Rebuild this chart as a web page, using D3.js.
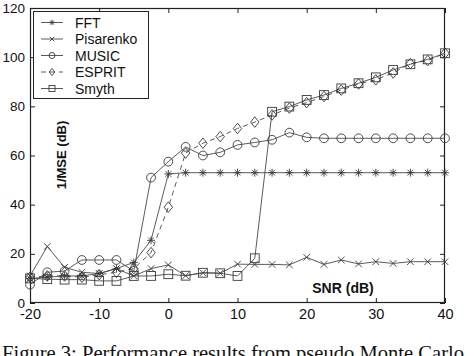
<!DOCTYPE html>
<html>
<head>
<meta charset="utf-8">
<script src="https://cdn.jsdelivr.net/npm/d3@7"></script>
<style>
  html, body { margin: 0; padding: 0; background: #fff; overflow: hidden; }
  svg { display: block; }
</style>
</head>
<body>
<svg id="chart" width="474" height="356"></svg>
<script>
const snr = [-20, -17.5, -15, -12.5, -10, -7.5, -5, -2.5, 0, 2.5, 5, 7.5, 10, 12.5, 15, 17.5, 20, 22.5, 25, 27.5, 30, 32.5, 35, 37.5, 40];
const fft       = [10, 10.5, 11, 11, 12, 14, 16.5, 25.5, 52.5, 53, 53, 53, 53, 53, 53, 53, 53, 53, 53, 53, 53, 53, 53, 53, 53];
const pisarenko = [11, 23, 14.5, 12.5, 12, 14, 11, 14, 15.5, 11.1, 12.3, 12.1, 15.8, 15.7, 15.7, 15.5, 18.6, 15.7, 17.5, 15.9, 16.8, 16.1, 16.8, 16.8, 16.8];
const music     = [7.5, 12.5, 13, 17.5, 17.5, 17.5, 13, 51, 57.5, 63.5, 60, 61.3, 64.3, 65.3, 66.4, 69.3, 67.4, 67, 67, 67, 67, 67, 67, 67, 67];
const esprit    = [10.5, 11, 11, 10.5, 11.5, 12.5, 14, 20.5, 39, 61, 65, 67.7, 71, 73.6, 76.5, 79.3, 81.5, 84, 86.6, 89.1, 90.8, 93.6, 97.4, 98.6, 101.6];
const smyth     = [10, 9.7, 9.5, 9.5, 9, 9, 11, 11, 11.7, 11.1, 12.3, 12.1, 11, 18.2, 77.8, 79.9, 82.6, 84.6, 87.3, 89.4, 91.8, 94.8, 97.1, 99.1, 101.6];
const seriesNames = ["FFT", "Pisarenko", "MUSIC", "ESPRIT", "Smyth"];
const seriesMarkers = ["star", "cross", "circle", "diamond", "square"];
const xTicks = [-20, -10, 0, 10, 20, 30, 40];
const yTicks = [0, 20, 40, 60, 80, 100, 120];
const xLabel = "SNR (dB)";
const yLabel = "1/MSE (dB)";
const caption = "Figure 3: Performance results from pseudo Monte Carlo";

(function () {
const seriesValues = [fft, pisarenko, music, esprit, smyth];
const series = seriesNames.map((name, i) => ({
  name, marker: seriesMarkers[i], dashed: name === "ESPRIT",
  points: snr.map((xv, j) => ({ x: xv, y: seriesValues[i][j] }))
}));

const svg = d3.select("#chart");
const mLeft = 30, mRight = 445, mTop = 8, mBottom = 303;
const x = d3.scaleLinear().domain([-20, 40]).range([mLeft, mRight]);
const y = d3.scaleLinear().domain([0, 120]).range([mBottom, mTop]);

const lineColor = "#4a4a4a";
const markColor = "#3a3a3a";
const fmt = d => String(d);

// caption (cut off at the bottom edge, as in the reference)
svg.append("text")
  .attr("x", 2).attr("y", 360)
  .attr("font-family", "Liberation Serif, serif")
  .attr("font-size", 21)
  .attr("textLength", 462).attr("lengthAdjust", "spacingAndGlyphs")
  .attr("fill", "#111")
  .text(caption);

// axes
const gx = svg.append("g").attr("transform", `translate(0,${mBottom})`)
  .call(d3.axisBottom(x).tickValues(xTicks).tickSize(0).tickPadding(6).tickFormat(fmt));
const gxTop = svg.append("g").attr("transform", `translate(0,${mTop})`)
  .call(d3.axisBottom(x).tickValues(xTicks).tickSize(5).tickFormat(""));
const gxIn = svg.append("g").attr("transform", `translate(0,${mBottom})`)
  .call(d3.axisTop(x).tickValues(xTicks).tickSize(5).tickFormat(""));
const gy = svg.append("g").attr("transform", `translate(${mLeft},0)`)
  .call(d3.axisLeft(y).tickValues(yTicks).tickSize(0).tickPadding(4).tickFormat(fmt));
const gyIn = svg.append("g").attr("transform", `translate(${mLeft},0)`)
  .call(d3.axisRight(y).tickValues(yTicks).tickSize(5).tickFormat(""));
const gyR = svg.append("g").attr("transform", `translate(${mRight},0)`)
  .call(d3.axisLeft(y).tickValues(yTicks).tickSize(5).tickFormat(""));

[gx, gxTop, gxIn, gy, gyIn, gyR].forEach(g => {
  g.select(".domain").remove();
  g.selectAll("line").attr("stroke", "#222").attr("stroke-width", 1);
  g.selectAll("text").attr("font-family", "Liberation Sans, Arial, sans-serif")
    .attr("fill", "#111");
});
gx.selectAll("text").attr("font-size", 14.5);
gy.selectAll("text").attr("font-size", 13.5).attr("dx", "-1").attr("dy", "0.3em");

// frame
svg.append("rect")
  .attr("x", mLeft + 0.5).attr("y", mTop + 0.5)
  .attr("width", mRight - mLeft - 1).attr("height", mBottom - mTop - 1)
  .attr("fill", "none").attr("stroke", "#222").attr("stroke-width", 1.2);

// axis titles
svg.append("text")
  .attr("transform", `translate(66,155) rotate(-90)`)
  .attr("text-anchor", "middle")
  .attr("font-family", "Liberation Sans, Arial, sans-serif")
  .attr("font-weight", "bold").attr("font-size", 13)
  .attr("fill", "#111")
  .text(yLabel);
svg.append("text")
  .attr("x", 343).attr("y", 293)
  .attr("text-anchor", "middle")
  .attr("font-family", "Liberation Sans, Arial, sans-serif")
  .attr("font-weight", "bold").attr("font-size", 14)
  .attr("fill", "#111")
  .text(xLabel);

// marker drawer
function drawMarker(g, type, cx, cy, s) {
  const apply = sel => sel.attr("stroke", markColor).attr("stroke-width", 0.9).attr("fill", "none");
  if (type === "circle") {
    apply(g.append("circle").attr("cx", cx).attr("cy", cy).attr("r", s));
  } else if (type === "square") {
    apply(g.append("rect").attr("x", cx - s).attr("y", cy - s).attr("width", 2 * s).attr("height", 2 * s));
  } else if (type === "diamond") {
    const r = s * 1.2;
    apply(g.append("path").attr("d", `M${cx},${cy - r}L${cx + r * 0.8},${cy}L${cx},${cy + r}L${cx - r * 0.8},${cy}Z`));
  } else if (type === "cross") {
    const r = s * 0.75;
    apply(g.append("path").attr("d", `M${cx - r},${cy - r}L${cx + r},${cy + r}M${cx - r},${cy + r}L${cx + r},${cy - r}`));
  } else if (type === "star") {
    const r = s * 0.9, d = r * 0.72;
    apply(g.append("path").attr("d",
      `M${cx - r},${cy}L${cx + r},${cy}M${cx},${cy - r}L${cx},${cy + r}` +
      `M${cx - d},${cy - d}L${cx + d},${cy + d}M${cx - d},${cy + d}L${cx + d},${cy - d}`));
  }
}

const line = d3.line().x(d => x(d.x)).y(d => y(d.y));
const plot = svg.append("g");
series.forEach(s => {
  plot.append("path")
    .attr("d", line(s.points))
    .attr("fill", "none")
    .attr("stroke", lineColor)
    .attr("stroke-width", 0.9)
    .attr("stroke-dasharray", s.dashed ? "5,4" : null);
});
series.forEach(s => {
  const g = plot.append("g");
  s.points.forEach(p => drawMarker(g, s.marker, x(p.x), y(p.y), 4.4));
});

// legend
const lg = svg.append("g");
lg.append("rect").attr("x", 33.5).attr("y", 11.5).attr("width", 115).attr("height", 87)
  .attr("fill", "#fff").attr("stroke", "#222").attr("stroke-width", 1);
series.forEach((s, i) => {
  const cy = 22.5 + i * 16.5;
  lg.append("line").attr("x1", 41).attr("x2", 63).attr("y1", cy).attr("y2", cy)
    .attr("stroke", lineColor).attr("stroke-width", 0.9)
    .attr("stroke-dasharray", s.dashed ? "5,4" : null);
  drawMarker(lg, s.marker, 52, cy, 3);
  lg.append("text").attr("x", 75).attr("y", cy).attr("dy", "0.36em")
    .attr("font-family", "Liberation Sans, Arial, sans-serif")
    .attr("font-size", 14).attr("fill", "#111")
    .text(s.name);
});
})();
</script>
</body>
</html>
